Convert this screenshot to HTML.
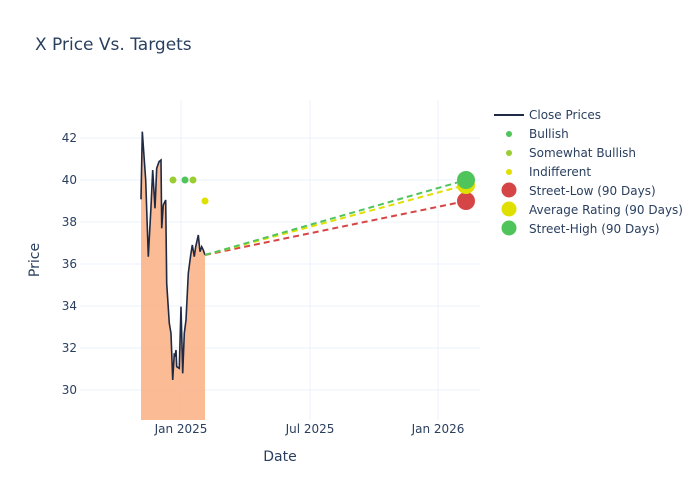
<!DOCTYPE html><html><head><meta charset="utf-8"><style>body{margin:0;background:#fff}svg{display:block}text{font-family:"DejaVu Sans","Liberation Sans",sans-serif;fill:#2a3f5f}</style></head><body>
<svg width="700" height="500" viewBox="0 0 700 500">
<rect width="700" height="500" fill="#fff"/>
<g stroke="#ebf0f8" stroke-width="1">
<line x1="80" x2="480" y1="138" y2="138"/><line x1="80" x2="480" y1="180" y2="180"/><line x1="80" x2="480" y1="222" y2="222"/><line x1="80" x2="480" y1="264" y2="264"/><line x1="80" x2="480" y1="306" y2="306"/><line x1="80" x2="480" y1="348" y2="348"/><line x1="80" x2="480" y1="390" y2="390"/>
<line x1="181" x2="181" y1="100" y2="420"/><line x1="310" x2="310" y1="100" y2="420"/><line x1="438" x2="438" y1="100" y2="420"/>
</g>
<polygon fill="#fbb48a" fill-opacity="0.9" points="141,420 141,199.3 142.3,131.7 145.7,180 148.3,256.7 151,206.7 152.7,170 155,208.3 156.7,168.3 159,161.7 161,160 161.7,228.3 163.3,205 165.7,200 166.7,283.3 169.3,323.3 171,333.3 172.7,380 174.3,353.3 175,356.7 176,350 176.7,366.7 179.3,368.3 181,306.7 182.7,373.3 184.3,333.3 186,320 188.3,273.3 190.7,255 192.3,245 194.3,256.7 195.7,246.7 198.3,235 200,251.7 201.7,246.7 203.3,250 205,255 205,420"/>
<polyline fill="none" stroke="#1f2a44" stroke-width="1.6" points="141,199.3 142.3,131.7 145.7,180 148.3,256.7 151,206.7 152.7,170 155,208.3 156.7,168.3 159,161.7 161,160 161.7,228.3 163.3,205 165.7,200 166.7,283.3 169.3,323.3 171,333.3 172.7,380 174.3,353.3 175,356.7 176,350 176.7,366.7 179.3,368.3 181,306.7 182.7,373.3 184.3,333.3 186,320 188.3,273.3 190.7,255 192.3,245 194.3,256.7 195.7,246.7 198.3,235 200,251.7 201.7,246.7 203.3,250 205,255"/>
<g stroke-width="2" stroke-dasharray="6,4">
<line x1="205" y1="255" x2="466" y2="201" stroke="#d64545"/>
<line x1="205" y1="255" x2="466" y2="185" stroke="#e0e000"/>
<line x1="205" y1="255" x2="466" y2="180" stroke="#4fc45a"/>
</g>
<circle cx="173" cy="180" r="3.5" fill="#9acd32"/><circle cx="185" cy="180" r="3.5" fill="#4fc45a"/><circle cx="193" cy="180" r="3.5" fill="#9acd32"/><circle cx="205" cy="201" r="3.5" fill="#e0e000"/>
<circle cx="466" cy="201" r="9" fill="#d64545"/><circle cx="466" cy="185" r="9" fill="#e0e000"/><circle cx="466" cy="180" r="9" fill="#4fc45a"/>
<g font-size="12" text-anchor="end">
<text x="77" y="142">42</text><text x="77" y="184">40</text><text x="77" y="226">38</text><text x="77" y="268">36</text><text x="77" y="310">34</text><text x="77" y="352">32</text><text x="77" y="394">30</text></g>
<g font-size="12" text-anchor="middle"><text x="181" y="433">Jan 2025</text><text x="310" y="433">Jul 2025</text><text x="438" y="433">Jan 2026</text></g>
<text x="280" y="461" font-size="14" text-anchor="middle">Date</text>
<text transform="translate(39,260) rotate(-90)" font-size="14" text-anchor="middle">Price</text>
<text x="35" y="50" font-size="17">X Price Vs. Targets</text>
<g font-size="12">
<line x1="494" x2="524" y1="115" y2="115" stroke="#1f2a44" stroke-width="2"/><text x="529" y="119">Close Prices</text>
<circle cx="509" cy="134" r="3" fill="#4fc45a"/><text x="529" y="138">Bullish</text>
<circle cx="509" cy="153" r="3" fill="#9acd32"/><text x="529" y="157">Somewhat Bullish</text>
<circle cx="509" cy="172" r="3" fill="#e0e000"/><text x="529" y="176">Indifferent</text>
<circle cx="509" cy="190" r="7.5" fill="#d64545"/><text x="529" y="195">Street-Low (90 Days)</text>
<circle cx="509" cy="209" r="7.5" fill="#e0e000"/><text x="529" y="214">Average Rating (90 Days)</text>
<circle cx="509" cy="228" r="7.5" fill="#4fc45a"/><text x="529" y="233">Street-High (90 Days)</text>
</g>
</svg></body></html>
